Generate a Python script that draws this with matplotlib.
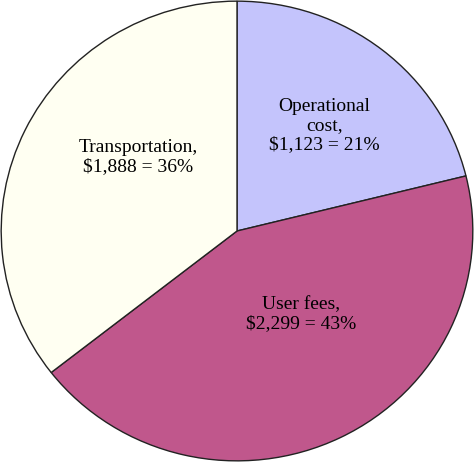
import matplotlib
matplotlib.use("Agg")
import matplotlib.pyplot as plt

labels = ["Operational\ncost,\n$1,123 = 21%", "User fees,\n$2,299 = 43%", "Transportation,\n$1,888 = 36%"]
values = [1123, 2299, 1888]
colors = ["#c4c4fc", "#c0578c", "#fffff2"]
label_pos = [(0.37, 0.46), (0.27, -0.36), (-0.42, 0.32)]

fig = plt.figure(figsize=(4.74, 4.62), dpi=100)
ax = fig.add_axes([0, 0, 1, 1])
ax.pie(values, colors=colors, startangle=90, counterclock=False,
       wedgeprops=dict(edgecolor="#222222", linewidth=1.0))
for lab, (x, y) in zip(labels, label_pos):
    ax.text(x, y, lab, ha="center", va="center", fontsize=14,
            family="Liberation Serif", linespacing=1.15)
ax.set_aspect("auto")
ax.set_xlim(-1.005, 1.005)
ax.set_ylim(-1.005, 1.005)
ax.axis("off")
fig.savefig("out.png", dpi=100)
